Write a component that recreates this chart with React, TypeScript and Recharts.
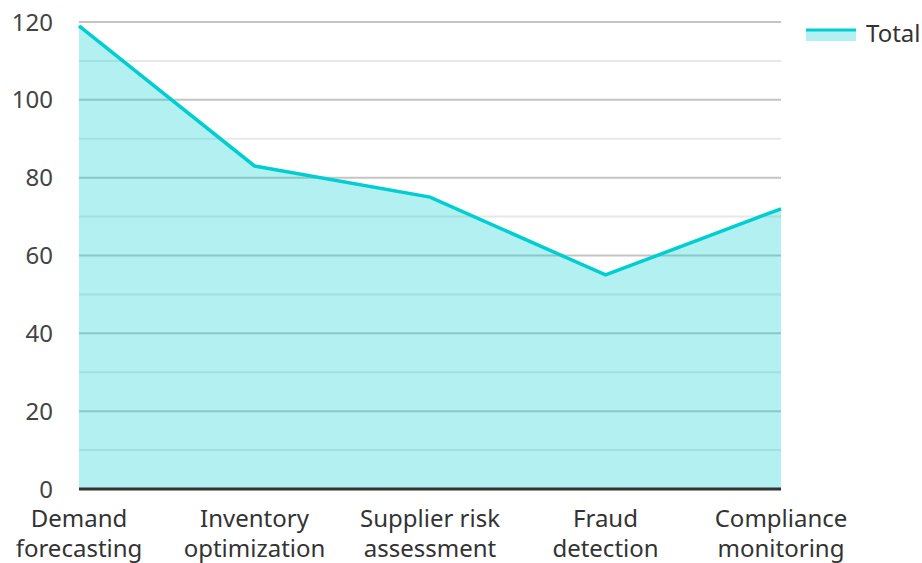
import {
  AreaChart,
  Area,
  XAxis,
  YAxis,
  CartesianGrid,
} from "recharts";

const categories = [
  "Demand\nforecasting",
  "Inventory\noptimization",
  "Supplier risk\nassessment",
  "Fraud\ndetection",
  "Compliance\nmonitoring",
];
const totals = [119, 83, 75, 55, 72];
const majorTicks = [0, 20, 40, 60, 80, 100, 120];
const minorTicks = [10, 30, 50, 70, 90, 110];
const allTicks = [...majorTicks, ...minorTicks].sort((a, b) => a - b);

const data = categories.map((name, i) => ({ name, total: totals[i] }));

const FONT = "'Noto Sans', sans-serif";
const TEAL = "#00CED1";

function XTick({ x, y, payload }: any) {
  const lines = String(payload.value).split("\n");
  return (
    <text x={x} y={y} textAnchor="middle" fill="#333" fontSize={24} fontFamily={FONT}>
      {lines.map((l, i) => (
        <tspan key={i} x={x} dy={30}>
          {l}
        </tspan>
      ))}
    </text>
  );
}

// grid line: darker on labelled ticks, lighter between them
function GridLine(props: any) {
  const { x1, y1, x2, y2, index } = props;
  const major = majorTicks.includes(allTicks[index]);
  return (
    <line
      x1={x1}
      y1={y1}
      x2={x2}
      y2={y2}
      stroke={major ? "#c4c4c4" : "#e8e8e8"}
      strokeWidth={2}
    />
  );
}

function LegendBox() {
  return (
    <div
      style={{
        position: "absolute",
        left: 806,
        top: 16,
        display: "flex",
        alignItems: "center",
        fontFamily: FONT,
        fontSize: 24,
        color: "#333",
      }}
    >
      <svg width={50} height={16} style={{ marginRight: 10 }}>
        <rect x={0} y={4} width={50} height={12} fill={TEAL} fillOpacity={0.3} />
        <line x1={0} y1={5} x2={50} y2={5} stroke={TEAL} strokeWidth={3} />
      </svg>
      <span>Total</span>
    </div>
  );
}

export default function App() {
  return (
    <div style={{ position: "absolute", left: 0, top: 0, width: 922, height: 563, background: "#fff" }}>
      <AreaChart
        width={922}
        height={563}
        data={data}
        margin={{ top: 22, right: 141, bottom: 0, left: 0 }}
      >
        <CartesianGrid vertical={false} horizontal={<GridLine />} />
        <XAxis
          dataKey="name"
          interval={0}
          tick={<XTick />}
          tickLine={false}
          axisLine={{ stroke: "#333", strokeWidth: 3 }}
          height={74}
        />
        <YAxis
          domain={[0, 120]}
          ticks={allTicks}
          interval={0}
          width={79}
          axisLine={false}
          tickLine={false}
          tickSize={0}
          tickMargin={26}
          tickFormatter={(v: number) => (majorTicks.includes(v) ? String(v) : "")}
          tick={{ fill: "#444", fontSize: 24, fontFamily: FONT }}
        />
        <Area
          type="linear"
          dataKey="total"
          name="Total"
          stroke={TEAL}
          strokeWidth={3.5}
          fill={TEAL}
          fillOpacity={0.3}
          isAnimationActive={false}
          dot={false}
          activeDot={false}
        />
      </AreaChart>
      <LegendBox />
    </div>
  );
}
